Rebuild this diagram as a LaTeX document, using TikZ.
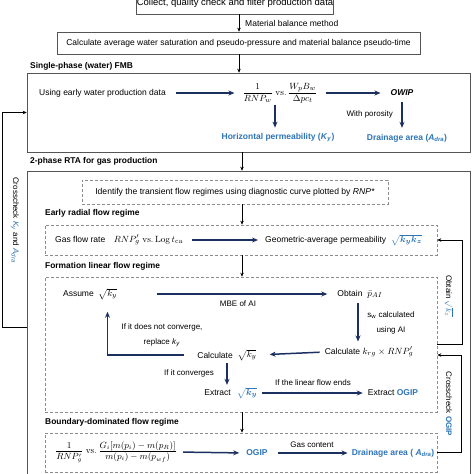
\documentclass[tikz,border=0pt]{standalone}
\usepackage[no-math]{fontspec}
\setmainfont{Liberation Sans}
\usepackage{amsmath,bm}
\usetikzlibrary{arrows.meta,calc}
\definecolor{navy}{RGB}{28,48,96}
\definecolor{tblue}{RGB}{46,117,182}
\definecolor{lgray}{RGB}{85,85,85}
\definecolor{dgray}{RGB}{140,140,140}
\newcommand{\mth}[1]{{\fontsize{9.5}{11}\selectfont$#1$}}
\begin{document}
\begin{tikzpicture}[x=1pt,y=-1pt,
  box/.style={draw=lgray, line width=0.6pt, inner sep=0pt},
  dbox/.style={draw=dgray, line width=0.7pt, dash pattern=on 3pt off 2pt, inner sep=0pt},
  txt/.style={inner sep=0pt, font=\fontsize{8.5}{10}\selectfont},
  stxt/.style={inner sep=0pt, font=\fontsize{8}{15}\selectfont, align=center},
  head/.style={inner sep=0pt, anchor=west, font=\fontsize{8.4}{10}\selectfont\bfseries},
  btxt/.style={inner sep=0pt, font=\fontsize{8.5}{10}\selectfont\bfseries, text=tblue},
  arr/.style={draw=navy, line width=1.5pt, -{Stealth[length=6pt,width=5pt]}},
  tarr/.style={draw=black, line width=0.6pt, -{Stealth[length=4pt,width=3.5pt]}},
  ]
\useasboundingbox (0,0) rectangle (474,474);
\clip (0,0) rectangle (474,474);
\fill[white] (0,0) rectangle (474,474);

% top part
\node[box, txt, font=\fontsize{9.5}{11}\selectfont, minimum width=196pt, minimum height=22pt] (top) at (235,3) {Collect, quality check and filter production data};
\node[box, txt, minimum width=363pt, minimum height=22pt] (calc) at (238.5,43) {Calculate average water saturation and pseudo-pressure and material balance pseudo-time};
\coordinate (ax) at (239,0);
\draw[tarr] (top.south -| ax) -- (calc.north -| ax);
\node[txt, anchor=west] (mbm) at (245,23) {Material balance method};

% FMB
\node[head] (h1) at (30,66) {Single-phase (water) FMB};
\node[box, minimum width=443pt, minimum height=79pt] (fmb) at (248.5,112.5) {};
\draw[tarr] (calc.south -| ax) -- (fmb.north -| ax);
\node[txt] (early) at (102.5,93) {Using early water production data};
\node[txt] (frac1) at (280,93) {\mth{\dfrac{1}{RNP_w}\ \mathrm{vs.}\,\dfrac{W_pB_w}{\Delta p c_t}}};
\node[txt, font=\fontsize{8.5}{10}\selectfont\bfseries\itshape] (owip) at (402,93) {OWIP};
\draw[arr, shorten <=10pt, shorten >=8pt] (early.east) -- (frac1.west);
\draw[arr, shorten <=8pt, shorten >=10pt] (frac1.east) -- (owip.west);
\node[btxt] (hperm) at (278,138) {Horizontal permeability (\textit{K}\textsubscript{\textit{y}})};
\node[btxt] (drain1) at (407,138) {Drainage area (\textit{A}\textsubscript{\textit{dra}})};
\coordinate (fx) at (275,0);
\draw[arr, shorten <=2pt, shorten >=6pt] (frac1.south -| fx) -- (hperm.north -| fx);
\draw[arr, shorten <=6pt, shorten >=6pt] (owip.south) -- (owip.south |- drain1.north);
\node[stxt, anchor=east] (poro) at (393,114) {With porosity};

% RTA
\node[head] (h2) at (30,161) {2-phase RTA for gas production};
\node[box, minimum width=443pt, minimum height=330pt] (rta) at (248.5,336) {};
\coordinate (bx) at (242,0);
\draw[tarr] (fmb.south -| bx) -- (rta.north -| bx);

\node[dbox, stxt, font=\fontsize{8.6}{10}\selectfont, minimum width=306pt, minimum height=24pt] (diag) at (235,192) {Identify the transient flow regimes using diagnostic curve plotted by \textit{RNP*}};
\node[head] (h3) at (45,213) {Early radial flow regime};
\node[dbox, minimum width=392pt, minimum height=30pt] (er) at (241,240) {};
\draw[tarr] (diag.south -| bx) -- (er.north -| bx);
\node[txt, anchor=west] (gfr) at (55,240) {Gas flow rate\quad \mth{RNP_g'\ \mathrm{vs.\,Log}\,t_{\mathrm{ca}}}};
\node[txt, anchor=west] (gap) at (265,240) {Geometric-average permeability\ \ \textcolor{tblue}{\mth{\bm{\sqrt{k_yk_z}}}}};
\draw[arr, shorten <=9pt, shorten >=7pt] (gfr.east) -- (gap.west);

\node[head] (h4) at (45,266) {Formation linear flow regime};
\node[dbox, minimum width=392pt, minimum height=135pt] (fl) at (241,344.5) {};
\draw[tarr] (er.south -| bx) -- (fl.north -| bx);
\node[head] (h5) at (45,422) {Boundary-dominated flow regime};
\node[dbox, minimum width=392pt, minimum height=39pt] (bd) at (241,452.5) {};
\draw[tarr] (fl.south -| bx) -- (bd.north -| bx);

% formation linear content
\node[txt, anchor=east] (assume) at (94,294) {Assume};
\node[txt] (assk) at (107.5,294) {\mth{\sqrt{k_y}}};
\node[txt] (obtain) at (360,294) {Obtain\ \ \mth{\bar{p}_{AI}}};
\draw[arr, shorten <=40pt, shorten >=10pt] (assk.east) -- (obtain.west);
\node[stxt] (mbe) at (238,304) {MBE of AI};
\node[txt] (ckrg) at (369,352) {Calculate \mth{k_{rg}\times RNP_g'}};
\coordinate (ox) at (358,0);
\draw[arr, shorten <=5pt, shorten >=5pt] (obtain.south -| ox) -- (ckrg.north -| ox);
\node[stxt] (swl) at (391,323) {s\textsubscript{w} calculated\\using AI};
\node[txt, anchor=east] (calc2) at (233,355) {Calculate};
\node[txt] (ck) at (247,355) {\mth{\sqrt{k_y}}};
\draw[arr, shorten <=5pt, shorten >=13pt] (ckrg.west) -- (ck.east);
\draw[arr, shorten <=13pt, shorten >=12pt] (calc2.west) -| (assk.south);
\node[stxt] (ncl) at (162,335) {If it does not converge,\\replace \textit{k}\textsubscript{\textit{y}}};
\coordinate (cx) at (227,0);
\node[txt, anchor=east] (ext) at (231,393) {Extract};
\node[txt] (extk) at (247,393) {\textcolor{tblue}{\mth{\bm{\sqrt{k_y}}}}};
\draw[arr, shorten <=5pt, shorten >=5pt] (calc2.south -| cx) -- (ext.north -| cx);
\node[stxt] (conv) at (189,373) {If it converges};
\node[txt] (extogip) at (393,393) {Extract \textcolor{tblue}{\bfseries OGIP}};
\draw[arr, shorten <=5pt, shorten >=5pt] (extk.east) -- (extogip.west);
\node[stxt] (lfe) at (313,383) {If the linear flow ends};

% boundary-dominated content
\node[txt] (f2) at (116,452) {{\fontsize{9}{11}\selectfont$\dfrac{1}{RNP_g'}\;\mathrm{vs.}\,\dfrac{G_i[m(p_i)-m(p_R)]}{m(p_i)-m(p_{wf})}$}};
\node[btxt] (ogip2) at (257,453) {OGIP};
\draw[arr, shorten <=6pt, shorten >=7pt] (f2.east) -- (ogip2.west);
\node[btxt] (drain2) at (393,453) {Drainage area ( \textit{A}\textsubscript{\textit{dra}})};
\draw[arr, shorten <=10pt, shorten >=4pt] (ogip2.east) -- (drain2.west);
\node[stxt] (gc) at (312,445) {Gas content};

% brackets
\draw[tarr] (fl.east) -- ++(25,0) |- (er.east);
\node[stxt, rotate=-90] (obk) at (449,296) {Obtain \textcolor{tblue}{$\sqrt{k_z}$}};
\draw[tarr] (bd.east) -- ++(24,0) |- ([yshift=-10.5pt]fl.east);
\node[stxt, rotate=-90] (cco) at (449,404) {Crosscheck \textcolor{tblue}{\bfseries OGIP}};
\draw[tarr] ([yshift=8.5pt]rta.west) -- ++(-24,0) |- (fmb.west);
\node[stxt, rotate=-90, font=\fontsize{8}{9}\selectfont] (cck) at (15,220) {Crosscheck \textcolor{tblue}{\textit{K}\textsubscript{\textit{y}}} and \textcolor{tblue}{\textit{A}\textsubscript{\textit{dra}}}};
\end{tikzpicture}
\end{document}
